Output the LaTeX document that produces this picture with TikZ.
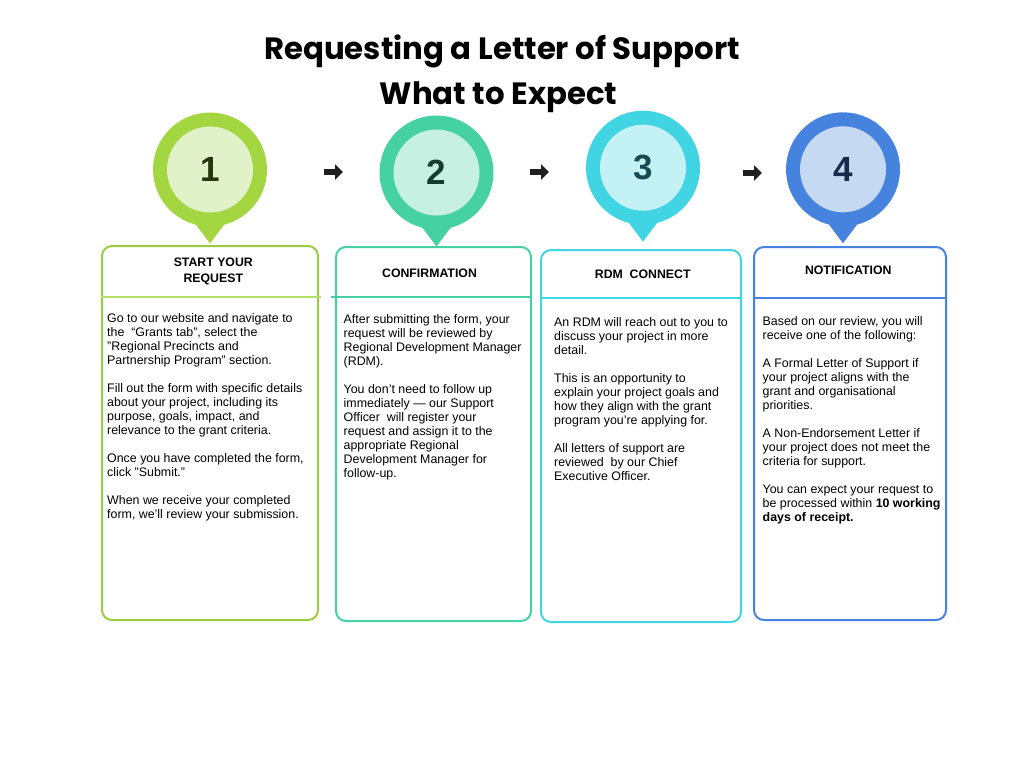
\documentclass[tikz,border=0pt]{standalone}
\usepackage{fontspec}
\setmainfont{Liberation Sans}
\newfontfamily\titlefont{Poppins}
\usetikzlibrary{arrows.meta,positioning}
\definecolor{grn}{HTML}{A3D641}
\definecolor{grnlt}{HTML}{E1F2C8}
\definecolor{grndk}{HTML}{26340F}
\definecolor{sea}{HTML}{45D1A2}
\definecolor{sealt}{HTML}{C6F0E1}
\definecolor{seadk}{HTML}{143D30}
\definecolor{cyn}{HTML}{41D4E2}
\definecolor{cynlt}{HTML}{C4F1F4}
\definecolor{cyndk}{HTML}{174A52}
\definecolor{blu}{HTML}{4683DE}
\definecolor{blult}{HTML}{C5D9F3}
\definecolor{bludk}{HTML}{172A4B}
\begin{document}
\begin{tikzpicture}[x=1pt,y=-1pt,>=Latex,
  card/.style={draw=#1,line width=2pt,rounded corners=10pt,inner sep=0},
  head/.style={inner sep=0,align=center,font=\bfseries\fontsize{12.3}{15.5}\selectfont},
  body/.style={anchor=north west,inner sep=0,align=left,font=\fontsize{12.4}{14}\selectfont},
  titletext/.style={anchor=base,inner sep=0,font=\titlefont\bfseries\fontsize{30.8}{32}\selectfont},
  blockarrow/.style={line width=6pt,-{Triangle[length=8pt,width=15pt]},black!88}]
\useasboundingbox (0,0) rectangle (1024,768);
\node[titletext] (title1) at (502,59.5) {Requesting a Letter of Support};
\node[titletext] (title2) at (498.5,104) {What to Expect};
\foreach \n/\px/\py/\c/\cl/\cd in {1/210/169.5/grn/grnlt/grndk,2/436.5/172.5/sea/sealt/seadk,
    3/643/167.7/cyn/cynlt/cyndk,4/843/169.3/blu/blult/bludk} {
  \fill[\c] (\px-18,\py+50) -- (\px,\py+74) -- (\px+18,\py+50) -- cycle;
  \node[circle,fill=\c,minimum size=114pt,inner sep=0] (pin\n) at (\px,\py) {};
  \node[circle,fill=\cl,minimum size=86pt,inner sep=0,text=\cd,
    font=\bfseries\fontsize{35}{35}\selectfont] (num\n) at (pin\n) {\n};
}
\coordinate (a1s) at (324,172); \coordinate (a1e) at (343,172);
\coordinate (a2s) at (530,172); \coordinate (a2e) at (549,172);
\coordinate (a3s) at (743,173); \coordinate (a3e) at (762,173);
\draw[blockarrow] (a1s) -- (a1e);
\draw[blockarrow] (a2s) -- (a2e);
\draw[blockarrow] (a3s) -- (a3e);
\node[card=grn!95!black,minimum width=216pt,minimum height=374pt] (box1) at (210,433) {};
\node[card=sea,minimum width=195pt,minimum height=374pt] (box2) at (433.5,434) {};
\node[card=cyn,minimum width=200pt,minimum height=372pt] (box3) at (641,436) {};
\node[card=blu,minimum width=192pt,minimum height=373pt] (box4) at (850,433.5) {};
\draw[grn!80,line width=2pt] (box1.west |- 0,297) -- ([xshift=2pt]box1.east |- 0,297);
\draw[sea,line width=2pt] ([xshift=-4pt]box2.west |- 0,297) -- (box2.east |- 0,297);
\draw[cyn,line width=2pt] (box3.west |- 0,298) -- (box3.east |- 0,298);
\draw[blu,line width=2pt] (box4.west |- 0,298) -- (box4.east |- 0,298);
\node[head] (head1) at (213.3,271.5) {START YOUR\\REQUEST};
\node[head] (head2) at (429.5,273.3) {CONFIRMATION};
\node[head] (head3) at (642.7,274) {RDM \ CONNECT};
\node[head] (head4) at (848.3,270.5) {NOTIFICATION};
\node[body] (text1) at (107,313) {Go to our website and navigate to\\
  the \ “Grants tab”, select the\\
  "Regional Precincts and\\
  Partnership Program" section.\\[14pt]
  Fill out the form with specific details\\
  about your project, including its\\
  purpose, goals, impact, and\\
  relevance to the grant criteria.\\[14pt]
  Once you have completed the form,\\
  click "Submit."\\[14pt]
  When we receive your completed\\
  form, we’ll review your submission.};
\node[body] (text2) at (343.5,314) {After submitting the form, your\\
  request will be reviewed by\\
  Regional Development Manager\\
  (RDM).\\[14pt]
  You don’t need to follow up\\
  immediately — our Support\\
  Officer \ will register your\\
  request and assign it to the\\
  appropriate Regional\\
  Development Manager for\\
  follow-up.};
\node[body] (text3) at (554,317) {An RDM will reach out to you to\\
  discuss your project in more\\
  detail.\\[14pt]
  This is an opportunity to\\
  explain your project goals and\\
  how they align with the grant\\
  program you’re applying for.\\[14pt]
  All letters of support are\\
  reviewed \ by our Chief\\
  Executive Officer.};
\node[body] (text4) at (762.5,316) {Based on our review, you will\\
  receive one of the following:\\[14pt]
  A Formal Letter of Support if\\
  your project aligns with the\\
  grant and organisational\\
  priorities.\\[14pt]
  A Non-Endorsement Letter if\\
  your project does not meet the\\
  criteria for support.\\[14pt]
  You can expect your request to\\
  be processed within \textbf{10 working}\\
  \textbf{days of receipt.}};
\end{tikzpicture}
\end{document}
